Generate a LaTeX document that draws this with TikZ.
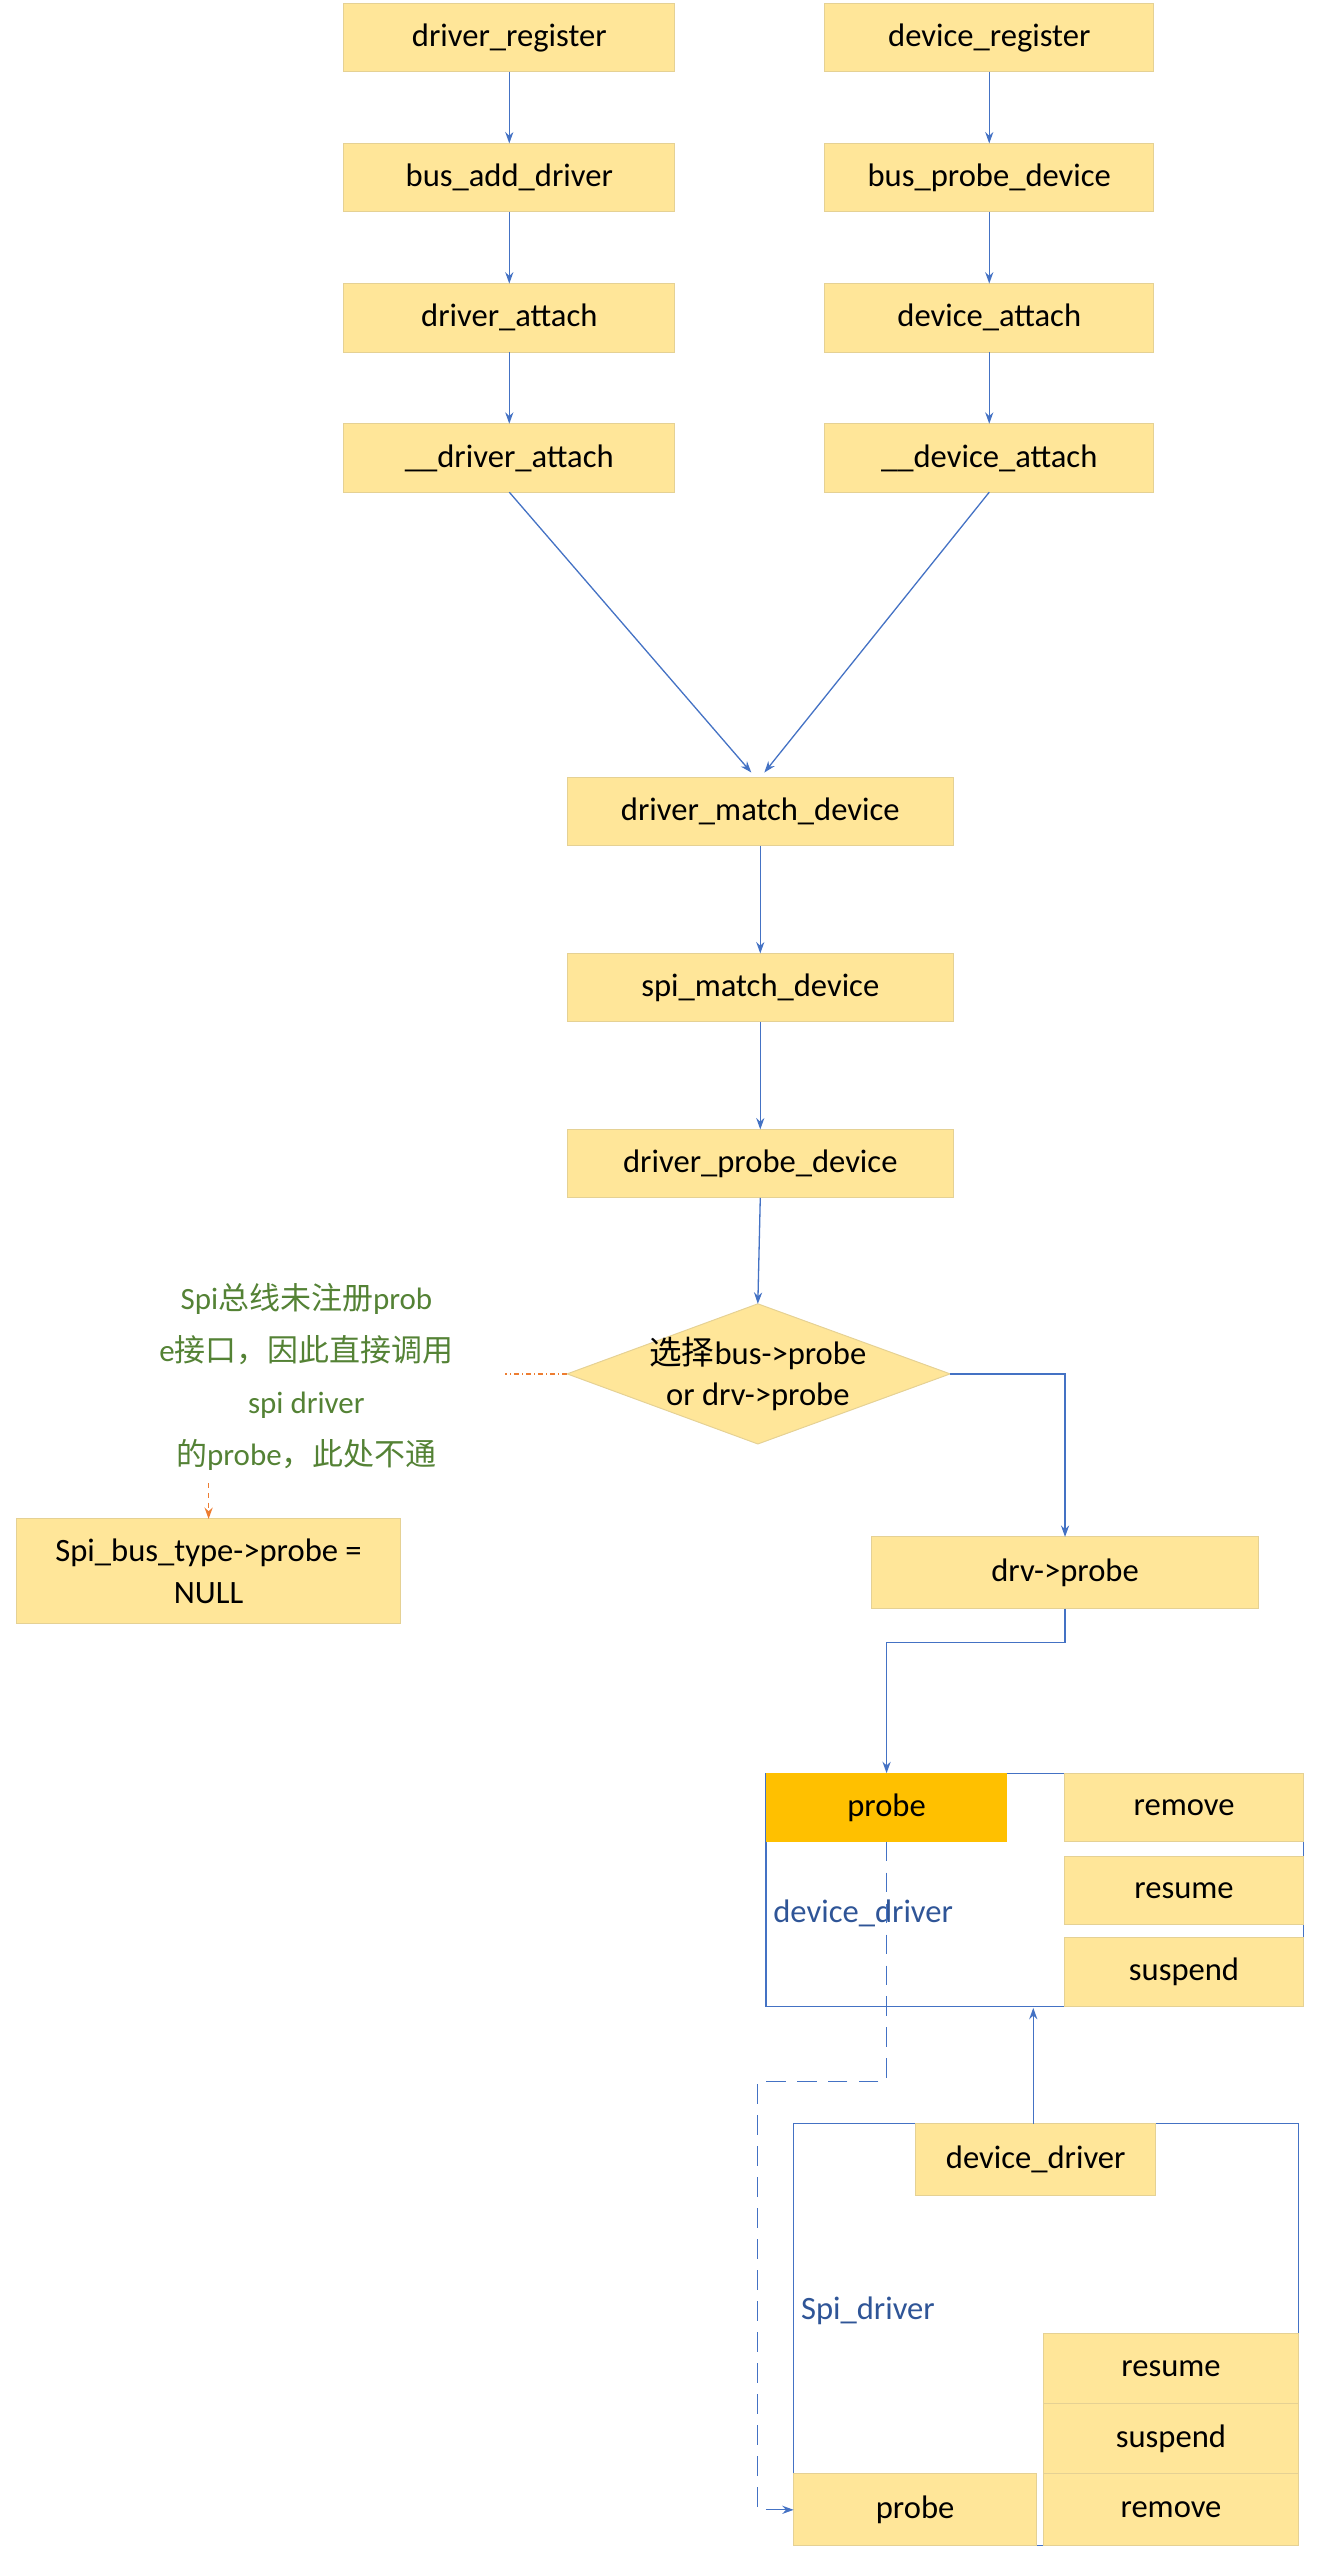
\documentclass[tikz,border=0pt]{standalone}
\usepackage{fontspec}
\setmainfont{Carlito}
\newfontfamily\cjk{Noto Sans CJK SC}
\usetikzlibrary{arrows.meta,shapes.geometric}
\definecolor{boxy}{HTML}{FFE699}
\definecolor{boxo}{HTML}{FFC000}
\definecolor{lineb}{HTML}{4472C4}
\definecolor{labb}{HTML}{2F5597}
\definecolor{gr}{HTML}{548235}
\definecolor{orl}{HTML}{ED7D31}
\begin{document}
\begin{tikzpicture}[x=1pt,y=-1pt,
  fbox/.style={draw=boxy!80!gray,fill=boxy,line width=0.6pt,font=\fontsize{20}{24}\selectfont},
  conn/.style={draw=lineb,line width=0.8pt,-{Stealth[length=7pt,width=5pt]}},
  frame/.style={draw=lineb,line width=0.7pt}]
\useasboundingbox (0,0) rectangle (808,1580);
\newcommand\bx[6]{\path[fbox] (#2,#3) rectangle (#4,#5); \node[font=\fontsize{20}{24}\selectfont] (#1) at ({(#2+#4)/2},{(#3+#5)/2}) {#6};
 \coordinate (#1-n) at ({(#2+#4)/2},#3); \coordinate (#1-s) at ({(#2+#4)/2},#5);}
\bx{a1}{211}{2}{414}{44}{driver\_register}
\bx{a2}{211}{88}{414}{130}{bus\_add\_driver}
\bx{a3}{211}{174}{414}{216}{driver\_attach}
\bx{a4}{211}{260}{414}{302}{\_\_driver\_attach}
\bx{b1}{506}{2}{708}{44}{device\_register}
\bx{b2}{506}{88}{708}{130}{bus\_probe\_device}
\bx{b3}{506}{174}{708}{216}{device\_attach}
\bx{b4}{506}{260}{708}{302}{\_\_device\_attach}
\bx{m1}{348}{477}{585}{519}{driver\_match\_device}
\bx{m2}{348}{585}{585}{627}{spi\_match\_device}
\bx{m3}{348}{693}{585}{735}{driver\_probe\_device}
\draw[conn] (a1-s)--(a2-n); \draw[conn] (a2-s)--(a3-n); \draw[conn] (a3-s)--(a4-n);
\draw[conn] (b1-s)--(b2-n); \draw[conn] (b2-s)--(b3-n); \draw[conn] (b3-s)--(b4-n);
\draw[conn] (a4-s)--(461,474); \draw[conn] (b4-s)--(469,474);
\draw[conn] (m1-s)--(m2-n); \draw[conn] (m2-s)--(m3-n);
% diamond
\path[fbox] (348,843)--(465,800)--(583,843)--(465,886)--cycle;
\coordinate (dl) at (348,843); \coordinate (dr) at (583,843); \coordinate (dt) at (465,800);
\node[align=center,font=\fontsize{20}{25}\selectfont] (dia) at (465,843) {{\cjk 选择}bus->probe\\or drv->probe};
\draw[conn] (m3-s)--(dt);
% comment
\node[align=center,text=gr,font=\fontsize{19}{32}\selectfont] (cm) at (188,845) {Spi{\cjk 总线未注册}prob\\e{\cjk 接口，因此直接调用}\\spi driver\\{\cjk 的}probe{\cjk ，此处不通}};
\coordinate (cmr) at (310,843);
\draw[orl,dash dot,line width=0.8pt] (dl)--(cmr);
\bx{nul}{10}{932}{246}{996}{}
\node[align=center,font=\fontsize{20}{26}\selectfont] at (nul) {Spi\_bus\_type->probe =\\NULL};
\coordinate (cmb) at (128,910);
\draw[orl,dashed,line width=0.8pt,-{Stealth[length=7pt,width=5pt]}] (cmb)--(nul-n);
\bx{drv}{535}{943}{772}{987}{drv->probe}
\draw[conn] (dr)-|(drv-n);
% device_driver frame
\draw[frame] (470,1088) rectangle (800,1231);
\bx{r1}{653}{1088}{800}{1130}{remove}
\bx{r2}{653}{1139}{800}{1181}{resume}
\bx{r3}{653}{1189}{800}{1231}{suspend}
\path[fill=boxo] (470,1088) rectangle (618,1130);
\node[font=\fontsize{20}{24}\selectfont] (pr1) at (544,1109) {probe};
\coordinate (pr1-n) at (544,1088); \coordinate (pr1-s) at (544,1130);
\node[text=labb,font=\fontsize{20}{24}\selectfont,anchor=west] at (471,1174) {device\_driver};
\draw[conn] (drv-s)--++(0,21)-|(pr1-n);
% spi_driver frame
\draw[frame] (487,1303) rectangle (797,1562);
\bx{dd}{562}{1303}{709}{1347}{device\_driver}
\node[text=labb,font=\fontsize{20}{24}\selectfont,anchor=west] at (488,1418) {Spi\_driver};
\bx{s1}{640}{1432}{797}{1475}{resume}
\bx{s2}{640}{1475}{797}{1518}{suspend}
\bx{s3}{640}{1518}{797}{1562}{remove}
\bx{pr2}{487}{1518}{636}{1562}{probe}
\coordinate (up) at (634,1232);
\draw[conn] (634,1303)--(up);
\draw[conn,dash pattern=on 12pt off 7pt] (pr1-s)--(544,1277)--(465,1277)--(465,1540)--(487,1540);
\end{tikzpicture}
\end{document}
